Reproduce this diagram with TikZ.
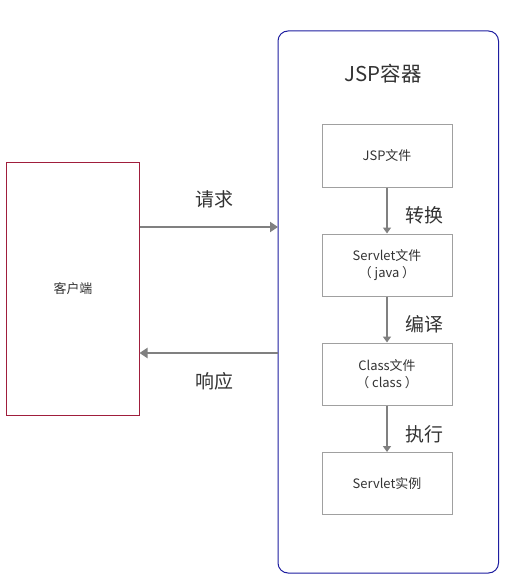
\documentclass[tikz,border=0pt]{standalone}
\usepackage{fontspec}
\setmainfont{Noto Sans CJK SC}
\usetikzlibrary{arrows.meta}
\definecolor{contblue}{RGB}{30,30,160}
\definecolor{clientred}{RGB}{160,30,60}
\definecolor{boxgray}{RGB}{160,160,160}
\definecolor{arrgray}{RGB}{128,128,128}
\definecolor{txt}{RGB}{51,51,51}
\tikzset{
  stepbox/.style={draw=boxgray, line width=1bp, minimum width=130bp, minimum height=62bp, inner sep=0pt, text=txt, font=\fontsize{13}{17}\selectfont, align=center},
  flow/.style={draw=arrgray, line width=1.6bp, -{Triangle[width=8bp,length=6bp]}},
  bigflow/.style={draw=arrgray, line width=2bp, -{Triangle[width=10bp,length=8bp]}},
  lbl/.style={text=txt, font=\fontsize{19}{22}\selectfont}
}
\begin{document}
\begin{tikzpicture}[x=1bp,y=-1bp]
\useasboundingbox (0,0) rectangle (517,583);
\fill[white] (0,0) rectangle (517,583);
% container
\draw[contblue, line width=1bp, rounded corners=10bp] (278,31) rectangle (498.5,573);
\node[text=txt, font=\fontsize{20.5}{24}\selectfont] (title) at (383,74) {JSP容器};
% client
\node[draw=clientred, line width=1bp, minimum width=132bp, minimum height=252bp, inner sep=0pt, text=txt, font=\fontsize{13}{16}\selectfont] (client) at (73,289) {客户端};
% steps
\node[stepbox] (jsp) at (387,156) {JSP文件};
\node[stepbox] (servlet) at (387,265) {Servlet文件\\（ java ）};
\node[stepbox] (class) at (387,374) {Class文件\\（ class ）};
\node[stepbox] (inst) at (387,483.5) {Servlet实例};
\draw[flow] (jsp.south) -- (servlet.north);
\draw[flow] (servlet.south) -- (class.north);
\draw[flow] (class.south) -- (inst.north);
\node[lbl] (l1) at (424,215) {转换};
\node[lbl] (l2) at (424,324) {编译};
\node[lbl] (l3) at (424,434) {执行};
% request / response
\coordinate (reqEnd) at (278,227);
\coordinate (respStart) at (278,353);
\draw[bigflow] (client.east |- reqEnd) -- (reqEnd);
\draw[bigflow] (respStart) -- (client.east |- respStart);
\node[lbl] (req) at (214,199) {请求};
\node[lbl] (resp) at (214,381) {响应};
\end{tikzpicture}
\end{document}
